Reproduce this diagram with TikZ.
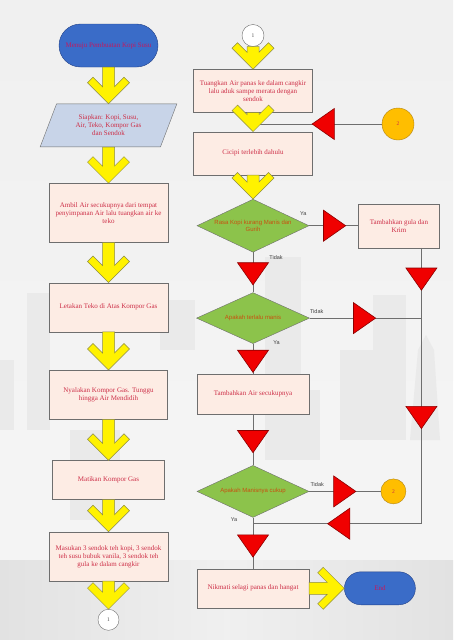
\documentclass[tikz,border=0pt]{standalone}
\usepackage{fontspec}
\setmainfont{Liberation Serif}
\setsansfont{Liberation Sans}
\usepackage{xcolor}
\usetikzlibrary{shapes,arrows.meta,positioning,calc,decorations.markings}

\definecolor{boxfill}{RGB}{253,236,228}
\definecolor{boxtext}{RGB}{205,45,70}
\definecolor{linegray}{RGB}{110,110,110}
\definecolor{termfill}{RGB}{58,108,200}
\definecolor{termline}{RGB}{35,65,135}
\definecolor{termtext}{RGB}{195,25,95}
\definecolor{iofill}{RGB}{200,212,232}
\definecolor{decfill}{RGB}{140,195,75}
\definecolor{dectext}{RGB}{200,80,15}
\definecolor{conbfill}{RGB}{255,190,0}
\definecolor{conbline}{RGB}{175,130,20}
\definecolor{yline}{RGB}{140,140,70}
\definecolor{trifill}{RGB}{240,0,0}
\definecolor{triline}{RGB}{140,0,0}
\definecolor{bgbase}{RGB}{244,244,244}
\definecolor{bgcity}{RGB}{234,234,234}
\definecolor{bgband}{RGB}{226,226,226}

\newcommand{\boxfont}{\fontsize{7}{8}\selectfont}
\newcommand{\decfont}{\sffamily\fontsize{6}{7}\selectfont}
\newcommand{\lblfont}{\sffamily\fontsize{5.5}{6}\selectfont}
\newcommand{\numfont}{\fontsize{5.5}{6}\selectfont}

% yellow block arrows between two nodes
\newcommand{\yelarrowdown}[2]{%
  \draw [yarrow] let \p1=(#1.south), \p2=(#2.north) in
    (\x1-6pt,\y1) -- (\x1-6pt,\y2+17pt) -- (\x1-15.5pt,\y2+26.5pt) -- (\x1-21pt,\y2+21pt)
    -- (\x1,\y2) -- (\x1+21pt,\y2+21pt) -- (\x1+15.5pt,\y2+26.5pt) -- (\x1+6pt,\y2+17pt)
    -- (\x1+6pt,\y1) -- cycle;}
\newcommand{\yelarrowright}[2]{%
  \draw [yarrow] let \p1=(#1.east), \p2=(#2.west) in
    (\x1,\y1+6pt) -- (\x2-17pt,\y1+6pt) -- (\x2-26.5pt,\y1+15.5pt) -- (\x2-21pt,\y1+21pt)
    -- (\x2,\y1) -- (\x2-21pt,\y1-21pt) -- (\x2-26.5pt,\y1-15.5pt) -- (\x2-17pt,\y1-6pt)
    -- (\x1,\y1-6pt) -- cycle;}

\begin{document}
\begin{tikzpicture}[
    x=1pt, y=-1pt,
    process/.style={rectangle, draw=linegray, fill=boxfill, text=boxtext, align=center, inner sep=2pt, font=\boxfont},
    terminal/.style={rectangle, rounded corners=#1, draw=termline, fill=termfill, text=termtext, align=center, font=\boxfont},
    iobox/.style={trapezium, trapezium left angle=65, trapezium right angle=115, trapezium stretches=true, draw=linegray, fill=iofill, text=boxtext, align=center, inner sep=1pt, font=\boxfont},
    decision/.style={diamond, aspect=2.1, draw=linegray, fill=decfill, text=dectext, align=center, inner sep=0pt, font=\decfont},
    connA/.style={circle, draw=linegray, fill=white, inner sep=0pt, minimum size=21pt, text=black!70, font=\numfont},
    connB/.style={circle, draw=conbline, fill=conbfill, inner sep=0pt, text=boxtext, font=\numfont},
    yarrow/.style={draw=yline, fill=yellow, line width=0.5pt},
    conn/.style={draw=linegray, line width=0.6pt},
    tri/.style={postaction={decorate, decoration={markings, mark=at position #1 with {\arrow{Triangle[length=23pt,width=32pt,color=triline,fill=trifill]}}}}},
    lbl/.style={font=\lblfont, text=black!75, inner sep=0pt},
    city/.style={fill=bgcity}
]

% Background with faint skyline
\useasboundingbox (0,0) rectangle (453,640);
\fill [top color=white!94!black, bottom color=bgbase] (0,0) rectangle (453,430);
\fill [bgbase] (0,430) rectangle (453,560);
\fill [left color=bgband, right color=bgband, middle color=white!94!black] (0,560) rectangle (453,640);
\fill [city] (27,293) rectangle (50,430);
\fill [city] (0,360) rectangle (14,430);
\fill [city] (265,257) rectangle (301,460);
\fill [city] (301,390) rectangle (320,460);
\fill [city] (373,295) rectangle (406,440);
\fill [city] (340,350) rectangle (380,440);
\fill [city] (410,440) -- (418,350) -- (426,335) -- (434,350) -- (440,440) -- cycle;
\fill [city] (160,300) rectangle (195,350);
\fill [city] (70,430) rectangle (120,520);

% Left column
\node [terminal=21.5pt, minimum width=99pt, minimum height=43pt] (start) at (108.5,45.5) {Menuju Pembuatan Kopi Susu};
\node [iobox, minimum width=138pt, minimum height=43pt, below=36.5pt of start] (siapkan) {Siapkan: Kopi, Susu,\\Air, Teko, Kompor Gas\\dan Sendok};
\node [process, minimum width=119pt, minimum height=59pt, below=36pt of siapkan] (ambil) {Ambil Air secukupnya dari tempat\\penyimpanan Air lalu tuangkan air ke\\teko};
\node [process, minimum width=119pt, minimum height=49pt, below=40pt of ambil] (letakan) {Letakan Teko di Atas Kompor Gas};
\node [process, minimum width=118pt, minimum height=49pt, below=38pt of letakan] (nyalakan) {Nyalakan Kompor Gas. Tunggu\\hingga Air Mendidih};
\node [process, minimum width=112pt, minimum height=39pt, below=41pt of nyalakan] (matikan) {Matikan Kompor Gas};
\node [process, minimum width=119pt, minimum height=49pt, below=32pt of matikan] (masukan) {Masukan 3 sendok teh kopi, 3 sendok\\teh susu bubuk vanila, 3 sendok teh\\gula ke dalam cangkir};
\node [connA, below=28pt of masukan] (sambung1b) {1};

% Right column
\node [connA, minimum size=22pt] (sambung1a) at (253,35.5) {1};
\node [process, minimum width=119pt, minimum height=43pt, below=22.5pt of sambung1a] (tuangkan) {Tuangkan Air panas ke dalam cangkir\\lalu aduk sampe merata dengan\\sendok};
\node [process, minimum width=119pt, minimum height=43pt, below=19pt of tuangkan] (cicipi) {Cicipi terlebih dahulu};
\node [decision, minimum width=112pt, minimum height=53pt, below=24pt of cicipi] (cek1) {Rasa Kopi kurang Manis dan\\Gurih};
\node [process, minimum width=81pt, minimum height=44pt, right=49pt of cek1] (gula) {Tambahkan gula dan\\Krim};
\node [decision, minimum width=113pt, minimum height=51pt, below=40pt of cek1] (cek2) {Apakah terlalu manis};
\node [process, minimum width=112pt, minimum height=40pt, below=30pt of cek2] (airbox) {Tambahkan Air secukupnya};
\node [decision, minimum width=112pt, minimum height=52pt, below=51pt of airbox] (cek3) {Apakah Manisnya cukup};
\node [process, minimum width=112pt, minimum height=39pt, below=51pt of cek3] (nikmati) {Nikmati selagi panas dan hangat};
\node [terminal=16.5pt, minimum width=71pt, minimum height=33pt, right=35pt of nikmati] (finish) {End};

% Off-page connectors 2
\node [connB, minimum size=32pt] (sambung2a) at (398,124) {2};
\node [connB, minimum size=25pt, right=71.5pt of cek3] (sambung2b) {2};

% Junction points
\coordinate (j1) at (tuangkan.south |- sambung2a);
\coordinate (g1) at ([xshift=22.5pt]gula.south);
\coordinate (j2) at (g1 |- cek2.east);
\coordinate (j4) at ($(cek3.south)!0.12!(nikmati.north)$);
\coordinate (j3) at (g1 |- j4);

% Lines with red triangles
\draw [conn, tri=0.545] (sambung2a.west) -- (j1);
\draw [conn, tri=0.755] (cek1.east) -- (gula.west);
\draw [conn, tri=0.825] (cek1.south) -- (cek2.north);
\draw [conn, tri=0.61] (g1) -- (j2);
\draw [conn, tri=0.595] (cek2.east) -- (j2);
\draw [conn, tri=0.54] (j2) -- (j3);
\draw [conn, tri=0.56] (j3) -- (j4);
\draw [conn, tri=0.97] (cek2.south) -- (airbox.north);
\draw [conn, tri=0.765] (airbox.south) -- (cek3.north);
\draw [conn, tri=0.66] (cek3.east) -- (sambung2b.west);
\draw [conn, tri=0.785] (cek3.south) -- (nikmati.north);

% Labels
\node [lbl] (ya1) at ([xshift=-6pt,yshift=12.5pt]cek1.east) {Ya};
\node [lbl] (tidak1) at ([xshift=23pt,yshift=-5pt]cek1.south) {Tidak};
\node [lbl] (tidak2) at ([xshift=7pt,yshift=6.5pt]cek2.east) {Tidak};
\node [lbl] (ya2) at ([xshift=23.5pt,yshift=1pt]cek2.south) {Ya};
\node [lbl] (tidak3) at ([xshift=8pt,yshift=7pt]cek3.east) {Tidak};
\node [lbl] (ya3) at ([xshift=-19pt,yshift=-2pt]cek3.south) {Ya};

% Yellow arrows
\yelarrowdown{start}{siapkan}
\yelarrowdown{siapkan}{ambil}
\yelarrowdown{ambil}{letakan}
\yelarrowdown{letakan}{nyalakan}
\yelarrowdown{nyalakan}{matikan}
\yelarrowdown{matikan}{masukan}
\yelarrowdown{masukan}{sambung1b}
\yelarrowdown{sambung1a}{tuangkan}
\yelarrowdown{tuangkan}{cicipi}
\yelarrowdown{cicipi}{cek1}
\yelarrowright{nikmati}{finish}

\end{tikzpicture}
\end{document}
